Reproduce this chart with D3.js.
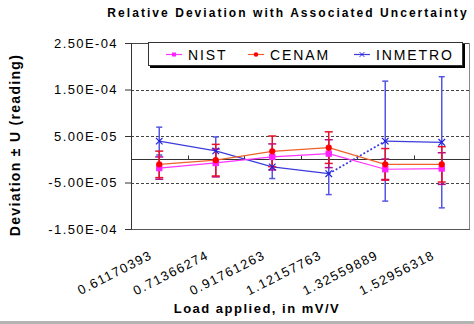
<!DOCTYPE html>
<html>
<head>
<meta charset="utf-8">
<script src="https://cdn.jsdelivr.net/npm/d3@7"></script>
<style>
	body { margin: 0; background: #fff; }
	text { font-family: "Liberation Sans", Arial, sans-serif; fill: #000; }
</style>
</head>
<body>
<div id="chart"></div>
<script>
// chart data
// ==========
var loads = ["0.61170393", "0.71366274", "0.91761263", "1.12157763", "1.32559889", "1.52956318"];

var nistDev = [-1.9e-5, -0.8e-5, 0.5e-5, 1.2e-5, -2.15e-5, -2.0e-5];
var nistU = [2.4e-5, 3.0e-5, 2.8e-5, 3.0e-5, 2.2e-5, 3.4e-5];

var cenamDev = [-1.1e-5, -0.2e-5, 1.7e-5, 2.5e-5, -1.1e-5, -1.1e-5];
var cenamU = [2.85e-5, 3.4e-5, 3.3e-5, 3.4e-5, 3.4e-5, 3.8e-5];

var inmetroDev = [3.9e-5, 1.8e-5, -1.65e-5, -3.1e-5, 3.9e-5, 3.65e-5];
var inmetroU = [3.0e-5, 3.0e-5, 2.5e-5, 4.5e-5, 12.9e-5, 14.1e-5];
// INMETRO segment drawn dotted (from point 4 to point 5)
var inmetroDotted = [3];

var yTicks = [-1.5e-4, -0.5e-4, 0.5e-4, 1.5e-4, 2.5e-4];

// layout
// ======
var svgWidth = 474;
var svgHeight = 324;

var plot = { left: 131, right: 470, top: 43, bottom: 229 };

var svg = d3.select("#chart")
	.append("svg")
	.attr("width", svgWidth)
	.attr("height", svgHeight);

var x = d3.scaleBand()
	.domain(loads)
	.range([plot.left, plot.right])
	.padding(0);

var y = d3.scaleLinear()
	.domain([-1.5e-4, 2.5e-4])
	.range([plot.bottom, plot.top]);

// Excel style exponent format, e.g. 2.50E-04
function sci(v) {
	var s = v.toExponential(2).split("e");
	var exp = +s[1];
	var sign = exp < 0 ? "-" : "+";
	var e = Math.abs(exp);
	return s[0] + "E" + sign + (e < 10 ? "0" + e : e);
}

// gridlines
svg.append("g")
	.selectAll("line")
	.data(yTicks)
	.enter()
	.append("line")
	.attr("x1", plot.left)
	.attr("x2", plot.right)
	.attr("y1", d => Math.round(y(d)) + 0.5)
	.attr("y2", d => Math.round(y(d)) + 0.5)
	.attr("stroke", d => d === -1.5e-4 ? "#555" : "#444")
	.attr("stroke-width", 1)
	.attr("stroke-dasharray", d => (d === -1.5e-4 || d === 2.5e-4) ? null : "3,2");

// right border of the plot area
svg.append("line")
	.attr("x1", plot.right - 0.5).attr("x2", plot.right - 0.5)
	.attr("y1", plot.top).attr("y2", plot.bottom)
	.attr("stroke", "#888");

// y axis
var yAxis = svg.append("g")
	.attr("transform", `translate(${plot.left}, 0)`)
	.call(d3.axisLeft(y).tickValues(yTicks).tickFormat(sci).tickSize(6).tickPadding(7));

yAxis.select(".domain").remove();
yAxis.selectAll(".tick line").attr("stroke", "#333");
yAxis.selectAll("text")
	.attr("font-size", 13)
	.attr("letter-spacing", 1.4)
	.attr("font-family", "Liberation Sans, Arial, sans-serif")
	.attr("fill", "#111");

svg.append("line")
	.attr("x1", plot.left + 0.5).attr("x2", plot.left + 0.5)
	.attr("y1", plot.top).attr("y2", plot.bottom + 0.5)
	.attr("stroke", "#333");

// x axis along zero
var zeroY = Math.round(y(0)) + 0.5;
svg.append("line")
	.attr("x1", plot.left).attr("x2", plot.right)
	.attr("y1", zeroY).attr("y2", zeroY)
	.attr("stroke", "#333");

svg.append("g")
	.selectAll("line")
	.data(loads.slice(1))
	.enter()
	.append("line")
	.attr("x1", d => Math.round(x(d)) + 0.5)
	.attr("x2", d => Math.round(x(d)) + 0.5)
	.attr("y1", zeroY)
	.attr("y2", zeroY - 4)
	.attr("stroke", "#333");

// category labels below the plot
svg.append("g")
	.selectAll("text")
	.data(loads)
	.enter()
	.append("text")
	.attr("transform", d => `translate(${x(d) + x.bandwidth() / 2 - 6}, 258) rotate(-27)`)
	.attr("text-anchor", "end")
	.attr("font-size", 13)
	.attr("letter-spacing", 1.4)
	.text(d => d);

// series
// ======
var cx = (d, i) => x(loads[i]) + x.bandwidth() / 2;

function drawErrorBars(dev, u, color, cap) {
	var g = svg.append("g").attr("stroke", color).attr("stroke-width", 1.5);
	dev.forEach(function (d, i) {
		var xc = cx(d, i);
		g.append("line").attr("x1", xc).attr("x2", xc).attr("y1", y(d - u[i])).attr("y2", y(d + u[i]));
		g.append("line").attr("x1", xc - cap).attr("x2", xc + cap).attr("y1", y(d + u[i])).attr("y2", y(d + u[i]));
		g.append("line").attr("x1", xc - cap).attr("x2", xc + cap).attr("y1", y(d - u[i])).attr("y2", y(d - u[i]));
	});
}

function drawLine(dev, color, dotted) {
	dev.forEach(function (d, i) {
		if (i === dev.length - 1) return;
		svg.append("line")
			.attr("x1", cx(d, i)).attr("y1", y(d))
			.attr("x2", cx(dev[i + 1], i + 1)).attr("y2", y(dev[i + 1]))
			.attr("stroke", color)
			.attr("stroke-width", dotted && dotted.indexOf(i) >= 0 ? 1.8 : 1.2)
			.attr("stroke-dasharray", dotted && dotted.indexOf(i) >= 0 ? "2,2" : null);
	});
}

// INMETRO
drawErrorBars(inmetroDev, inmetroU, "#5555e6", 3);
drawLine(inmetroDev, "#3c3cdc", inmetroDotted);

// NIST
drawErrorBars(nistDev, nistU, "#b0108c", 4);
drawLine(nistDev, "#ff33ff");

// CENAM
drawErrorBars(cenamDev, cenamU, "#e8102a", 4);
drawLine(cenamDev, "#f0602a");

// markers
var symSquare = d3.symbol().type(d3.symbolSquare).size(40);
var symCircle = d3.symbol().type(d3.symbolCircle).size(30);
var symCross = d3.symbol().type(d3.symbolX).size(30);

svg.append("g")
	.selectAll("path")
	.data(inmetroDev)
	.enter()
	.append("path")
	.attr("transform", (d, i) => `translate(${cx(d, i)}, ${y(d)})`)
	.attr("d", symCross)
	.attr("fill", "#2020e0")
	.attr("stroke", "#2020e0")
	.attr("stroke-width", 1.2);

svg.append("g")
	.selectAll("path")
	.data(nistDev)
	.enter()
	.append("path")
	.attr("transform", (d, i) => `translate(${cx(d, i)}, ${y(d)})`)
	.attr("d", symSquare)
	.attr("fill", "#ff22ff");

svg.append("g")
	.selectAll("path")
	.data(cenamDev)
	.enter()
	.append("path")
	.attr("transform", (d, i) => `translate(${cx(d, i)}, ${y(d)})`)
	.attr("d", symCircle)
	.attr("fill", "#ff0000");

// legend
// ======
var legend = svg.append("g");

legend.append("rect")
	.attr("x", 150).attr("y", 44)
	.attr("width", 315).attr("height", 24)
	.attr("fill", "#000");

legend.append("rect")
	.attr("x", 148.5).attr("y", 42.5)
	.attr("width", 314).attr("height", 23)
	.attr("fill", "#fff")
	.attr("stroke", "#333");

var legendItems = [
	{ name: "NIST", color: "#ff22ff", line: "#ff33ff", sym: symSquare, x: 166 },
	{ name: "CENAM", color: "#ff0000", line: "#f0602a", sym: symCircle, x: 248 },
	{ name: "INMETRO", color: "#2020e0", line: "#3c3cdc", sym: symCross, x: 354 }
];

legendItems.forEach(function (item) {
	legend.append("line")
		.attr("x1", item.x).attr("x2", item.x + 16)
		.attr("y1", 54.5).attr("y2", 54.5)
		.attr("stroke", item.line)
		.attr("stroke-width", 1.2);
	legend.append("path")
		.attr("transform", `translate(${item.x + 8}, 54.5)`)
		.attr("d", d3.symbol().type(item.sym.type()).size(16)())
		.attr("fill", item.color)
		.attr("stroke", item.name === "INMETRO" ? item.color : null);
	legend.append("text")
		.attr("x", item.x + 22)
		.attr("y", 59.5)
		.attr("font-size", 14)
		.attr("letter-spacing", 1.9)
		.text(item.name);
});

// titles
// ======
svg.append("text")
	.attr("x", 288)
	.attr("y", 17)
	.attr("text-anchor", "middle")
	.attr("font-size", 12)
	.attr("font-weight", "bold")
	.attr("letter-spacing", 2.05)
	.text("Relative Deviation with Associated Uncertainty");

svg.append("text")
	.attr("transform", "translate(20, 145) rotate(-90)")
	.attr("text-anchor", "middle")
	.attr("font-size", 14)
	.attr("font-weight", "bold")
	.attr("letter-spacing", 1.3)
	.text("Deviation ± U (reading)");

svg.append("text")
	.attr("x", 257)
	.attr("y", 313)
	.attr("text-anchor", "middle")
	.attr("font-size", 13)
	.attr("font-weight", "bold")
	.attr("letter-spacing", 1.5)
	.text("Load applied, in mV/V");

// bottom band
svg.append("rect")
	.attr("x", 0).attr("y", 321)
	.attr("width", svgWidth).attr("height", 3)
	.attr("fill", "#b4b4b4");
</script>
</body>
</html>
